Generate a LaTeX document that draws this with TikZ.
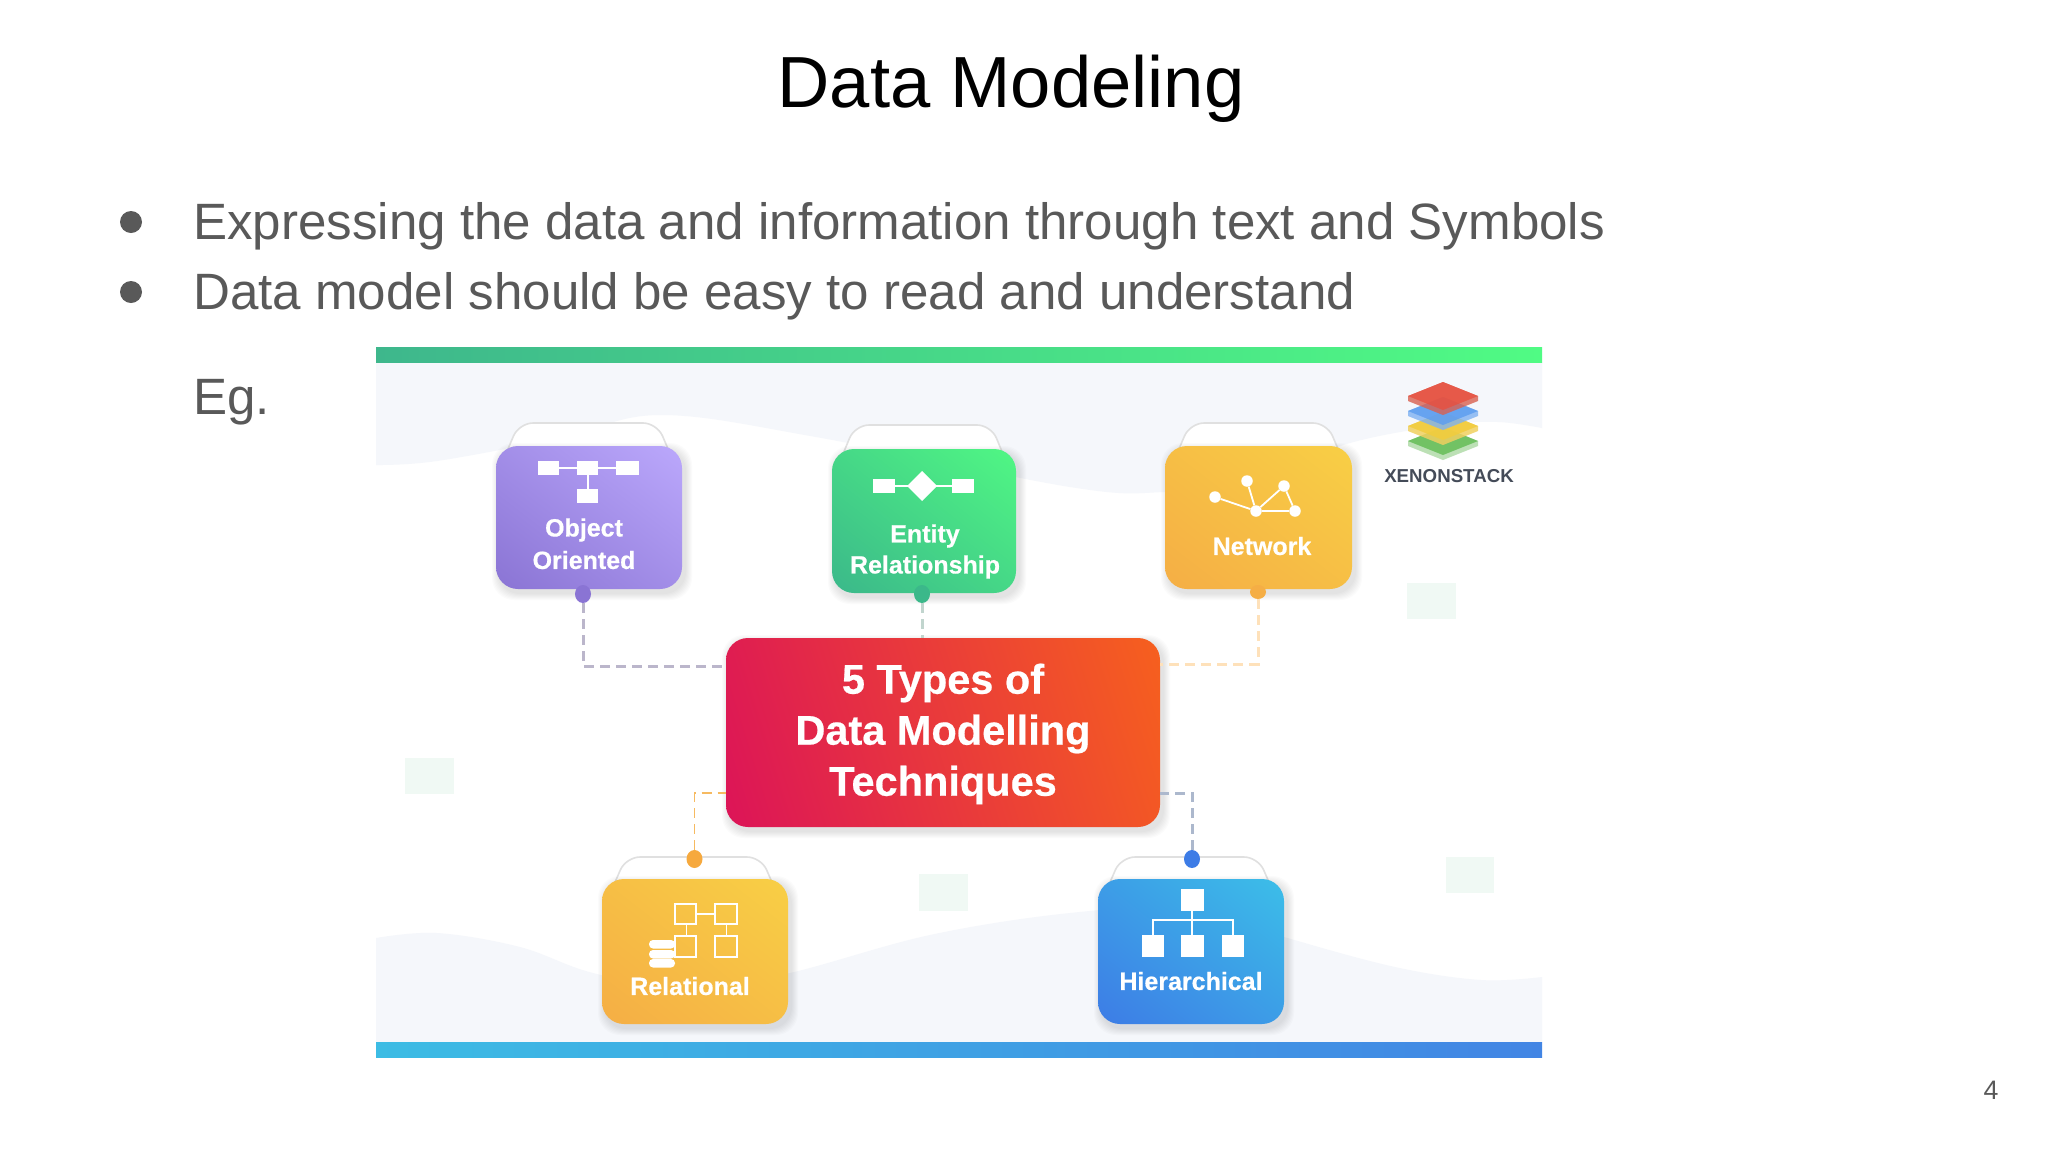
\documentclass[tikz,border=0pt]{standalone}
\usepackage{fontspec}
\setmainfont{Liberation Sans}
\newfontfamily\heavyfont{Liberation Sans}[BoldFeatures={FakeBold=0.5}]
\usetikzlibrary{shapes.geometric,shadings}
\definecolor{wave}{HTML}{F5F7FB}
\definecolor{bodygrey}{HTML}{595959}
\definecolor{faint}{HTML}{F0F9F4}
\definecolor{purA}{HTML}{8A74D4}\definecolor{purB}{HTML}{BBA8FC}
\definecolor{greA}{HTML}{3BB88A}\definecolor{greB}{HTML}{50F784}
\definecolor{oraA}{HTML}{F5AE45}\definecolor{oraB}{HTML}{F8CF45}
\definecolor{bluA}{HTML}{3D7CE6}\definecolor{bluB}{HTML}{3CBEE8}
\definecolor{redA}{HTML}{DC1458}\definecolor{redB}{HTML}{F6601E}
\definecolor{barA}{HTML}{3EB78C}\definecolor{barB}{HTML}{50FB84}
\definecolor{barC}{HTML}{3CBCE4}\definecolor{barD}{HTML}{4285E4}
\definecolor{logoR}{HTML}{E8503F}\definecolor{logoRs}{HTML}{D9604F}
\definecolor{logoB}{HTML}{5B9CF0}\definecolor{logoBs}{HTML}{7FB2F2}
\definecolor{logoY}{HTML}{F2CC3C}\definecolor{logoYs}{HTML}{F0D060}
\definecolor{logoG}{HTML}{6ABF5C}\definecolor{logoGs}{HTML}{B5DDAE}
\definecolor{logoT}{HTML}{444B58}
\tikzset{
  x=1pt,y=-1pt,
  tile/.style={inner sep=0pt,rounded corners=22pt,draw=none},
  tiletext/.style={text=white,font=\heavyfont\bfseries\fontsize{25}{30}\selectfont,inner sep=0pt},
  headtext/.style={text=white,font=\heavyfont\bfseries\fontsize{41.5}{50}\selectfont,inner sep=0pt},
  icon/.style={fill=white,draw=none},
  iconline/.style={draw=white,line width=1.8pt},
  netdot/.style={circle,fill=white,inner sep=0pt,minimum size=11.5pt},
  link/.style={dash pattern=on 10pt off 6pt,line width=3pt},
  pin/.style={ellipse,inner sep=0pt,minimum width=16pt,minimum height=18pt,fill=#1},
  body/.style={text=bodygrey,font=\fontsize{51.1}{62}\selectfont,anchor=base west,inner sep=0pt},
  faintsq/.style={fill=faint}
}
\newcommand{\softshadow}[5]{%
  \foreach \i in {1,...,7}{%
    \fill[black,opacity=.016,rounded corners=#5pt] ({#1-\i+3},{#2-\i+4}) rectangle ({#3+\i+3},{#4+\i+4});
  }}
\newcommand{\tile}[7]{%
  \softshadow{#2}{#3}{#4}{#5}{22}
  \node[tile,minimum width={(#4-#2)*1pt},minimum height={(#5-#3)*1pt},
    lower left=#6,upper right=#7,upper left=#6!50!#7,lower right=#6!50!#7]
    (#1) at ({(#2+#4)/2},{(#3+#5)/2}) {};}
\newcommand{\tabshape}[4]{%
  \fill[white,draw=black!12,line width=1.6pt,rounded corners=14pt] ({#1-6},{#4+16}) -- ({#1+11},#3) -- ({#2-11},#3) -- ({#2+6},{#4+16}) -- cycle;}
\newcommand{\layer}[4]{% y centre, top colour, side colour, opacity
  \fill[#3,opacity=#4] (1408,#1) -- (1443,{#1-14}) -- (1478,#1) -- (1478,{#1+5}) -- (1443,{#1+19}) -- (1408,{#1+5}) -- cycle;
  \fill[#2,opacity=#4] (1408,#1) -- (1443,{#1-14}) -- (1478,#1) -- (1443,{#1+14}) -- cycle;}
\begin{document}
\begin{tikzpicture}
\useasboundingbox (0,0) rectangle (2048,1152);
\fill[white] (0,0) rectangle (2048,1152);

% slide text
\node[text=black,font=\fontsize{72.4}{86}\selectfont,anchor=base,inner sep=0pt] (title) at (1011,107) {Data Modeling};
\node[circle,fill=bodygrey,minimum size=22pt,inner sep=0pt] (b1) at (131,222) {};
\node[circle,fill=bodygrey,minimum size=22pt,inner sep=0pt] (b2) at (131,292) {};
\node[body] (l1) at (193,239) {Expressing the data and information through text and Symbols};
\node[body] (l2) at (193,309) {Data model should be easy to read and understand};
\node[body] (eg) at (193,414) {Eg.};
\node[text=bodygrey,font=\fontsize{26.7}{32}\selectfont,inner sep=0pt] (pageno) at (1991,1090) {4};

% image background
\fill[wave] (376,362) -- plot[smooth,tension=.6] coordinates {(376,465) (437,461) (560,438) (660,415) (816,437) (1070,487) (1164,492) (1250,480) (1350,443) (1446,425) (1498,422) (1542,428)} -- (1542,362) -- cycle;
\fill[wave] (376,1042) -- plot[smooth,tension=.6] coordinates {(376,938) (437,933) (520,947) (593,973) (690,990) (790,973) (930,935) (1070,913) (1190,908) (1284,937) (1395,967) (1481,980) (1542,977)} -- (1542,1042) -- cycle;
\shade[left color=barA,right color=barB] (376,347) rectangle (1542,362);
\shade[left color=barC,right color=barD] (376,1042) rectangle (1542,1057);
\fill[faintsq] (1407,583) rectangle (1456,619);
\fill[faintsq] (405,758) rectangle (454,794);
\fill[faintsq] (919,874) rectangle (968,911);
\fill[faintsq] (1446,857) rectangle (1494,893);

% logo
\layer{441}{logoG}{logoGs}{.9}
\layer{426}{logoY}{logoYs}{.85}
\layer{411}{logoB}{logoBs}{.8}
\layer{396}{logoR}{logoRs}{.8}
\node[text=logoT,font=\bfseries\fontsize{18.7}{23}\selectfont,inner sep=0pt] (logotext) at (1449,476) {XENONSTACK};

% tabs
\tabshape{508}{668}{423}{447}
\tabshape{844}{1002}{425}{450}
\tabshape{1179}{1338}{423}{447}
\tabshape{615}{772}{857}{880}
\tabshape{1110}{1269}{857}{880}

% tiles
\softshadow{726}{638}{1160}{827}{22}
\node[tile,minimum width=434pt,minimum height=189pt,
    lower left=redA,upper left=redA!88!redB,upper right=redB,lower right=redB!88!redA]
    (central) at (943,732.5) {};
\tile{objectbox}{496}{446}{682}{589}{purA}{purB}
\tile{entitybox}{832}{449}{1016}{593}{greA}{greB}
\tile{networkbox}{1165}{446}{1352}{589}{oraA}{oraB}
\tile{relationalbox}{602}{879}{788}{1024}{oraA}{oraB}
\tile{hierbox}{1098}{879}{1284}{1024}{bluA}{bluB}

% pins
\node[pin=purA] (pinO) at (583,594) {};
\node[pin=greA] (pinE) at (922,594) {};
\node[pin=oraA,minimum height=14pt] (pinN) at (1258,592) {};
\node[pin=oraA!90!orange] (pinR) at (694.5,859) {};
\node[pin=bluA] (pinH) at (1192,859) {};

% ports on the central box
\coordinate (portO) at (central.west |- 0,666);
\coordinate (portE) at (pinE |- central.north);
\coordinate (portN) at (central.east |- 0,664);
\coordinate (portR) at (central.west |- 0,793);
\coordinate (portH) at (central.east |- 0,793);

% connectors
\draw[link,draw=purA!40!gray!55] (pinO) |- (portO);
\draw[link,draw=greA!40!gray!40] (pinE) -- (portE);
\draw[link,draw=oraB!35!orange!30] (pinN) |- (portN);
\draw[link,line width=1.8pt,draw=oraA!85] (pinR) |- (portR);
\draw[link,draw=bluA!35!gray!55] (pinH) |- (portH);

% object icon
\draw[iconline] (549,468) -- (627,468) (588,468) -- (588,496);
\fill[icon] (538,461) rectangle (559,475);
\fill[icon] (577,461) rectangle (598,475);
\fill[icon] (616,461) rectangle (639,475);
\fill[icon] (577,489) rectangle (598,503);
% entity icon
\draw[iconline] (884,486) -- (963,486);
\fill[icon] (873,479) rectangle (895,493);
\fill[icon] (952,479) rectangle (974,493);
\fill[icon] (907,486) -- (922,471) -- (937,486) -- (922,501) -- cycle;
% network icon
\node[netdot] (nA) at (1215,497) {};
\node[netdot] (nB) at (1247,481) {};
\node[netdot] (nC) at (1284,486) {};
\node[netdot] (nD) at (1256,511) {};
\node[netdot] (nE) at (1295,511) {};
\draw[iconline] (nA) -- (nD) (nB) -- (nD) (nD) -- (nC) (nC) -- (nE) (nD) -- (nE);
% relational icon
\draw[draw=white,line width=1.3pt] (675,904) rectangle (696,924) (715,904) rectangle (737,924) (675,936) rectangle (696,957) (715,936) rectangle (737,957);
\draw[iconline] (696,914) -- (715,914);
\draw[draw=white,line width=1pt] (686,924) -- (686,936) (726,924) -- (726,936);
\foreach \yy in {940,950,959}{\fill[white,rounded corners=4pt] (649,\yy) rectangle (675,{\yy+8.5});}
% hierarchical icon
\draw[iconline] (1192,911) -- (1192,935) (1153,935) -- (1153,920) -- (1233,920) -- (1233,935);
\fill[icon] (1181,889) rectangle (1204,911);
\fill[icon] (1142,935) rectangle (1164,957);
\fill[icon] (1181,935) rectangle (1204,957);
\fill[icon] (1222,935) rectangle (1244,957);

% labels
\node[tiletext] (tO1) at (584,530) {Object};
\node[tiletext] (tO2) at (584,560) {Oriented};
\node[tiletext] (tE1) at (925,536) {Entity};
\node[tiletext] (tE2) at (925,567) {Relationship};
\node[tiletext] (tN) at (1262,546) {Network};
\node[tiletext] (tR) at (690,986) {Relational};
\node[tiletext] (tH) at (1191,981) {Hierarchical};
\node[headtext] (h1) at (943,683) {5 Types of};
\node[headtext] (h2) at (943,734) {Data Modelling};
\node[headtext] (h3) at (943,785) {Techniques};
\end{tikzpicture}
\end{document}
